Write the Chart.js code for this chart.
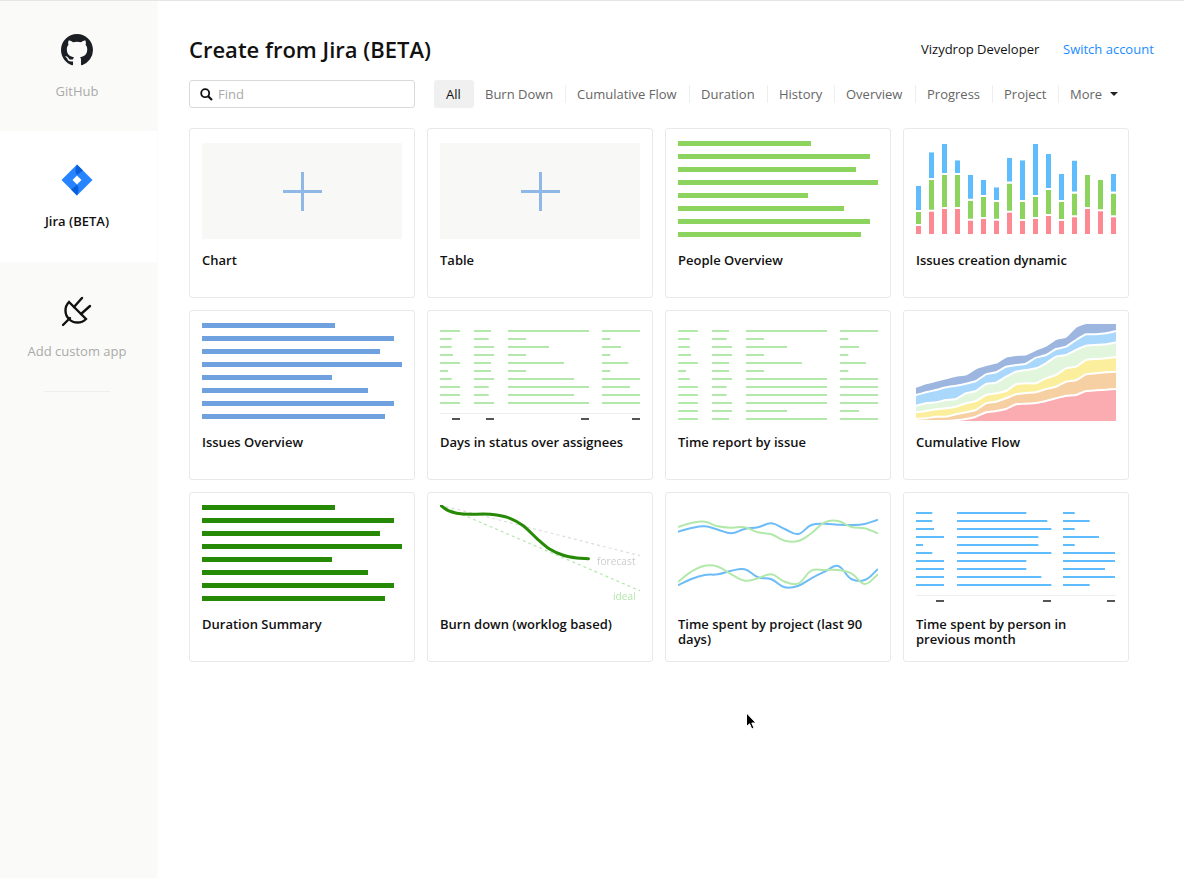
<!DOCTYPE html>
<html>
<head>
<meta charset="utf-8">
<title>Create from Jira (BETA)</title>
<script src="https://cdn.jsdelivr.net/npm/chart.js@4"></script>
<style>
  html, body { margin: 0; padding: 0; background: #fff; }
  body { width: 1184px; height: 878px; position: relative; overflow: hidden; font-family: "Open Sans", sans-serif; font-size: 13px; color: #111; }
  canvas { position: absolute; display: block; }
  .abs { position: absolute; white-space: nowrap; line-height: 16px; }
  #topline { position: absolute; left: 0; top: 0; width: 1184px; height: 1px; background: #e6e6e6; z-index: 5; }
  #sidebar { position: absolute; left: 0; top: 0; width: 157px; height: 878px; background: #fafaf8; box-shadow: 0 0 3px rgba(0,0,0,0.04); }
  #activeTab { position: absolute; left: 0; top: 131px; width: 157px; height: 131px; background: #fff; }
  #sideRule { position: absolute; left: 44px; top: 391px; width: 66px; height: 1px; background: #eee; }
  .side { left: 0; width: 154px; text-align: center; color: #aaa; }
  #find { position: absolute; left: 189px; top: 80px; width: 224px; height: 26px; border: 1px solid #d9d9d9; border-radius: 3px; }
  #allTab { position: absolute; left: 434px; top: 80px; width: 40px; height: 28px; background: #f0f0f0; border-radius: 3px; }
  .tab { color: #666; top: 86px; }
  .sep { position: absolute; top: 85px; width: 1px; height: 18px; background: #eee; }
  #caret { position: absolute; left: 1110px; top: 92px; width: 0; height: 0; border-left: 4px solid transparent; border-right: 4px solid transparent; border-top: 4px solid #222; }
  .card { position: absolute; width: 224px; height: 168px; border: 1px solid #e9e9e9; border-radius: 3px; }
  .cardTitle { position: absolute; width: 200px; font-weight: 600; line-height: 15px; color: #111; }
  .blank { position: absolute; width: 200px; height: 96px; background: #f8f8f6; }
  .axisLine { position: absolute; width: 200px; height: 1px; background: #eee; }
  .dash { position: absolute; width: 8px; height: 2px; background: #555; }
  .note { font-size: 10px; line-height: 12px; letter-spacing: 0.1px; }
</style>
</head>
<body>
<div id="topline"></div>
<div id="sidebar"></div>
<div id="activeTab"></div>
<div id="sideRule"></div>

<svg class="abs" style="left:61px;top:34px" width="32" height="32" viewBox="0 0 16 16"><path fill="#1b1f23" d="M8 0C3.58 0 0 3.58 0 8c0 3.54 2.29 6.53 5.47 7.59.4.07.55-.17.55-.38 0-.19-.01-.82-.01-1.49-2.01.37-2.53-.49-2.69-.94-.09-.23-.48-.94-.82-1.13-.28-.15-.68-.52-.01-.53.63-.01 1.08.58 1.23.82.72 1.21 1.87.87 2.33.66.07-.52.28-.87.51-1.07-1.78-.2-3.64-.89-3.64-3.95 0-.87.31-1.59.82-2.15-.08-.2-.36-1.02.08-2.12 0 0 .67-.21 2.2.82.64-.18 1.32-.27 2-.27.68 0 1.36.09 2 .27 1.53-1.04 2.2-.82 2.2-.82.44 1.1.16 1.92.08 2.12.51.56.82 1.27.82 2.15 0 3.07-1.87 3.75-3.65 3.95.29.25.54.73.54 1.48 0 1.07-.01 1.93-.01 2.2 0 .21.15.46.55.38A8.013 8.013 0 0016 8c0-4.42-3.58-8-8-8z"/></svg>
<div class="abs side" style="top:83px">GitHub</div>

<svg class="abs" style="left:61px;top:164px" width="32" height="32" viewBox="0 0 32 32">
  <path fill="#2684ff" d="M16 0.5 L31.5 16 L16 31.5 L0.5 16 Z"/>
  <path fill="#0a5fd8" d="M16 0.5 L22 6.5 L16 11 Q13 8 16 0.5 Z M16 31.5 L10 25.5 L16 21 Q19 24 16 31.5 Z"/>
  <path fill="#fff" d="M16 11.5 L20.5 16 L16 20.5 L11.5 16 Z"/>
</svg>
<div class="abs side" style="top:213px;color:#111;font-weight:600">Jira (BETA)</div>

<svg class="abs" style="left:60px;top:294px" width="34" height="34" viewBox="0 0 34 34" fill="none" stroke="#111" stroke-width="2.4" stroke-linecap="round">
  <path d="M9 8 L26 25 A12 12 0 0 1 9 8 Z"/>
  <path d="M14 13 L22 4 M21 20 L30 12 M10 24 L3 31"/>
</svg>
<div class="abs side" style="top:343px">Add custom app</div>

<div class="abs" style="left:189px;top:33px;font-size:22px;line-height:32px;font-weight:600">Create from Jira (BETA)</div>
<div class="abs" style="left:921px;top:41px">Vizydrop Developer</div>
<div class="abs" style="left:1063px;top:41px;color:#1a8cff">Switch account</div>

<div id="find"></div>
<svg class="abs" style="left:200px;top:88px" width="13" height="13" viewBox="0 0 13 13" fill="none" stroke="#111" stroke-width="1.8"><circle cx="5.2" cy="5.2" r="4"/><path d="M8.2 8.2 L12 12" stroke-width="2.2"/></svg>
<div class="abs" style="left:218px;top:86px;color:#aaa">Find</div>

<div id="allTab"></div>
<div class="abs" style="left:446px;top:86px;color:#111">All</div>
<div id="tabs"></div>
<div id="caret"></div>

<div id="cards"></div>

<svg class="abs" style="left:745px;top:712px;z-index:6" width="12" height="19" viewBox="0 0 12 19"><path fill="#000" stroke="#fff" stroke-width="1" d="M1.5 1 L1.5 14.5 L4.6 11.8 L6.8 17 L9 16 L6.8 11 L11 11 Z"/></svg>

<script>
// top bar filters
const tabNames = ["Burn Down", "Cumulative Flow", "Duration", "History", "Overview", "Progress", "Project", "More"]
const cardNames = [
  "Chart", "Table", "People Overview", "Issues creation dynamic",
  "Issues Overview", "Days in status over assignees", "Time report by issue", "Cumulative Flow",
  "Duration Summary", "Burn down (worklog based)", "Time spent by project (last 90 days)", "Time spent by person in previous month"
]

// shared by the three plain bar thumbnails
const overviewValues = [133, 192, 178, 200, 130, 166, 192, 183]

// issues creation dynamic
const dynamicRed = [8, 22.3, 25, 25, 13.3, 15, 13.3, 21.3, 13, 15, 18, 13, 16.7, 25, 22.7, 16.7]
const dynamicGreen = [14, 31.7, 34, 34, 20, 22, 18.7, 29.3, 19, 22, 26, 19, 23.7, 34, 31.3, 23.7]
const dynamicBlue = [26.3, 27.7, 31, 14.7, 25.7, 17.3, 14.7, 25.7, 41.7, 53, 36, 28, 33, 0, 0, 19.7]

// days in status over assignees
const daysAssignee = [20, 11.7, 11.7, 13, 20, 8, 11.7, 20, 20, 20]
const daysOpen = [17, 14.7, 20, 20, 17, 17, 20, 14.7, 14.7, 20]
const daysProgress = [81, 18, 41, 18, 56, 18, 66, 81, 66, 81]
const daysDone = [38, 8.3, 19, 8.3, 26.3, 8.3, 38, 28, 38, 38]

// time report by issue
const reportIssue = [20, 11.7, 11.7, 13, 20, 8, 11.7, 20, 20, 20, 20, 20]
const reportUser = [17, 14.7, 20, 20, 17, 17, 20, 14.7, 14.7, 20, 20, 17]
const reportLogged = [81, 18, 41, 18, 56, 18, 81, 81, 81, 81, 41, 81]
const reportTotal = [38, 8.3, 19, 8.3, 26, 8.3, 38, 38, 38, 38, 19, 38]

// cumulative flow, already cumulative from the bottom band up
const flowDates = [1, 2, 3, 4, 5, 6, 7, 8, 9, 10, 11, 12, 13, 14, 15, 16, 17, 18, 19, 20, 21]
const flowDone = [0, 0, 0, 0, 0.7, 2, 4.3, 8.7, 10, 12, 16.7, 17.3, 18, 20, 22.7, 25.3, 26, 30, 30.7, 31.3, 32]
const flowReview = [2, 2.7, 4.3, 4.3, 6.7, 8.7, 11, 17.7, 19.3, 22.7, 26.7, 28, 28.7, 32, 34.3, 39.3, 40.7, 46.7, 47.7, 48.7, 49.3]
const flowTest = [8.7, 10, 11.7, 12.7, 14.3, 17.7, 20, 26, 27.7, 30, 36.7, 37.7, 37.7, 42.7, 46, 52.7, 54.3, 61, 62, 62.7, 64]
const flowDoing = [15.3, 17.7, 18.7, 21, 22, 27.7, 30, 37, 38.3, 44.3, 49.3, 51, 52.7, 57.7, 64.3, 66, 71, 75.3, 76, 76.7, 78.7]
const flowReady = [26, 28.7, 31, 33.7, 35.3, 37.3, 40, 46.7, 48.7, 54.3, 56, 57.3, 63.3, 66, 72, 74.3, 81, 86.7, 86.7, 87.7, 90]
const flowBacklog = [34.3, 37.7, 40.3, 42.7, 45.3, 46.7, 52.7, 56, 58.3, 64.3, 66, 66.7, 71.3, 75.3, 82, 84.3, 94.3, 98, 98, 98, 98]

// burn down
const burnDays = [0, 8.3, 16.7, 30, 43.3, 56.7, 70, 83.3, 96.7, 110, 123.3, 136.7, 148.5]
const burnLeft = [100, 94.3, 91.7, 90.7, 91, 90, 86.7, 79.3, 66.7, 55.7, 49.7, 47, 46.3]
const guideDays = [0, 200]
const idealLeft = [100, 14.3]
const forecastLeft = [100, 49.3]

// time spent by project
const projectWeeks = [1, 2, 3, 4, 5, 6, 7, 8, 9, 10, 11, 12, 13, 14, 15, 16]
const projectTopBlue = [68.3, 72, 73.7, 70.3, 66.7, 71, 72.7, 76.7, 71, 66, 75, 76.3, 75.3, 75, 76, 80.3]
const projectTopGreen = [73, 77, 78.3, 73.7, 72.3, 72.7, 67.7, 65.7, 59.3, 59, 66.7, 77.7, 79, 73, 71.7, 66.7]
const projectLowBlue = [14.7, 21, 25, 25.7, 29.3, 30.7, 22.7, 20.7, 12.7, 14, 21.7, 28.3, 34, 21, 20, 31]
const projectLowGreen = [18, 28.3, 34.3, 33.3, 25.7, 19.3, 21.7, 25.7, 18.3, 16.3, 29.3, 30, 30, 26.7, 16, 25.7]

// time spent by person
const personCount = [16.3, 16.3, 18, 28, 7, 16.3, 28, 28, 28, 28]
const personHours = [69.3, 90.3, 94.3, 81.3, 81.3, 94.3, 69.3, 69.3, 84.3, 94.3]
const personShare = [11.7, 26.7, 11.7, 36, 11.7, 52, 52, 42, 52, 26.7]

const GREEN = "#8cd45e"
const STEEL = "#6fa1de"
const FOREST = "#268a06"
const MINT = "#b3e8ab"
const SKY = "#5fbcfd"
const ROSE = "#fd8a92"

Chart.defaults.animation = false
Chart.defaults.responsive = false
Chart.defaults.maintainAspectRatio = false
Chart.defaults.plugins.legend.display = false
Chart.defaults.plugins.tooltip.enabled = false

const body = document.body

function addDiv(parent, className, left, top, text) {
  const el = document.createElement("div")
  el.className = className
  el.style.left = left + "px"
  el.style.top = top + "px"
  if (text) el.textContent = text
  parent.appendChild(el)
  return el
}

function addChart(left, top, width, height, config) {
  const canvas = document.createElement("canvas")
  canvas.width = width
  canvas.height = height
  canvas.style.left = left + "px"
  canvas.style.top = top + "px"
  canvas.style.width = width + "px"
  canvas.style.height = height + "px"
  body.appendChild(canvas)
  return new Chart(canvas, config)
}

// one column of horizontal bars, the x scale runs 1px per unit
function rowBars(left, top, width, step, thickness, values, color) {
  addChart(left, top, width, values.length * step, {
    type: "bar",
    data: {
      labels: values.map((v, i) => i + 1),
      datasets: [{ data: values, backgroundColor: color, barThickness: thickness, inflateAmount: 0 }]
    },
    options: {
      indexAxis: "y",
      scales: {
        x: { display: false, min: 0, max: width },
        y: { display: false }
      }
    }
  })
}

function lineThumb(left, top, width, height, labels, datasets) {
  addChart(left, top, width, height, {
    type: "line",
    data: { labels: labels, datasets: datasets },
    options: {
      elements: { point: { radius: 0 } },
      scales: {
        x: { display: false, offset: false },
        y: { display: false, min: 0, max: height }
      }
    }
  })
}

function curve(values, color) {
  return { data: values, borderColor: color, borderWidth: 2, tension: 0.4, fill: false }
}

function band(values, color, target) {
  return { data: values, borderColor: "#fff", backgroundColor: color, borderWidth: 2, tension: 0.15, fill: target }
}

function dashes(axisTop, axisLeft, positions) {
  const line = addDiv(body, "axisLine", axisLeft, axisTop)
  positions.forEach(x => addDiv(body, "dash", x, axisTop + 5))
  return line
}

// page chrome
const tabLefts = [485, 577, 701, 779, 846, 927, 1004, 1070]
const sepLefts = [565, 689, 767, 834, 915, 992, 1058]
const tabsBox = document.getElementById("tabs")
tabNames.forEach((name, i) => addDiv(tabsBox, "abs tab", tabLefts[i], 86, name))
sepLefts.forEach(x => addDiv(tabsBox, "sep", x, 85))

// card frames and titles
const cardsBox = document.getElementById("cards")
const cardLefts = [189, 427, 665, 903]
const cardTops = [128, 310, 492]
cardNames.forEach((name, i) => {
  const left = cardLefts[i % 4]
  const top = cardTops[Math.floor(i / 4)]
  addDiv(cardsBox, "card", left, top)
  addDiv(cardsBox, "cardTitle", left + 13, top + 125, name)
})

// the two blank thumbnails
cardLefts.slice(0, 2).forEach(left => {
  addDiv(cardsBox, "blank", left + 13, 143)
  const plus = document.createElementNS("http://www.w3.org/2000/svg", "svg")
  plus.setAttribute("width", 39)
  plus.setAttribute("height", 39)
  plus.setAttribute("viewBox", "0 0 39 39")
  plus.style.cssText = "position:absolute;left:" + (left + 94) + "px;top:172px"
  plus.innerHTML = '<path d="M0 19.5 H39 M19.5 0 V39" stroke="#8fb8e6" stroke-width="3" fill="none"/>'
  cardsBox.appendChild(plus)
})

// people overview, issues overview, duration summary
rowBars(678, 137, 200, 13, 5, overviewValues, GREEN)
rowBars(202, 319, 200, 13, 5, overviewValues, STEEL)
rowBars(202, 501, 200, 13, 5, overviewValues, FOREST)

// issues creation dynamic
addChart(912, 144, 208, 90, {
  type: "bar",
  data: {
    labels: dynamicRed.map((v, i) => i + 1),
    datasets: [
      { data: dynamicRed, backgroundColor: ROSE, barThickness: 5, inflateAmount: 0 },
      { data: dynamicGreen, backgroundColor: GREEN, barThickness: 5, inflateAmount: 0, borderColor: "#fff", borderWidth: { bottom: 2 }, borderSkipped: false },
      { data: dynamicBlue, backgroundColor: SKY, barThickness: 5, inflateAmount: 0, borderColor: "#fff", borderWidth: { bottom: 2 }, borderSkipped: false }
    ]
  },
  options: {
    scales: {
      x: { display: false, stacked: true },
      y: { display: false, stacked: true, min: 0, max: 90 }
    }
  }
})

// days in status over assignees
rowBars(440, 327, 20, 8, 2, daysAssignee, MINT)
rowBars(474, 327, 20, 8, 2, daysOpen, MINT)
rowBars(508, 327, 81, 8, 2, daysProgress, MINT)
rowBars(602, 327, 38, 8, 2, daysDone, MINT)
dashes(413, 440, [452, 486, 581, 632])

// time report by issue
rowBars(678, 327, 20, 8, 2, reportIssue, MINT)
rowBars(712, 327, 20, 8, 2, reportUser, MINT)
rowBars(746, 327, 81, 8, 2, reportLogged, MINT)
rowBars(840, 327, 38, 8, 2, reportTotal, MINT)

// cumulative flow
lineThumb(916, 323, 200, 98, flowDates, [
  band(flowDone, "#fbacb0", "origin"),
  band(flowReview, "#f6cfa3", "-1"),
  band(flowTest, "#fbef9d", "-1"),
  band(flowDoing, "#e2f6dd", "-1"),
  band(flowReady, "#a9d8fc", "-1"),
  band(flowBacklog, "#9cb6df", "-1")
])

// burn down
function xy(xs, ys) {
  return xs.map((x, i) => ({ x: x, y: ys[i] }))
}
addChart(440, 505, 200, 100, {
  type: "line",
  data: {
    datasets: [
      { data: xy(burnDays, burnLeft), borderColor: FOREST, borderWidth: 3, borderCapStyle: "round", cubicInterpolationMode: "monotone" },
      { data: xy(guideDays, idealLeft), borderColor: MINT, borderWidth: 1.2, borderDash: [3, 3] },
      { data: xy(guideDays, forecastLeft), borderColor: "#ddd", borderWidth: 1.2, borderDash: [3, 3] }
    ]
  },
  options: {
    elements: { point: { radius: 0 } },
    scales: {
      x: { type: "linear", display: false, min: 0, max: 200 },
      y: { display: false, min: 0, max: 100 }
    }
  }
})
addDiv(body, "abs note", 597, 555, "forecast").style.color = "#ccc"
addDiv(body, "abs note", 613, 590, "ideal").style.color = MINT

// time spent by project
lineThumb(678, 505, 200, 95, projectWeeks, [
  curve(projectTopGreen, MINT),
  curve(projectTopBlue, "#6dbcf8"),
  curve(projectLowGreen, MINT),
  curve(projectLowBlue, "#6dbcf8")
])

// time spent by person in previous month
rowBars(916, 509, 28, 8, 2, personCount, SKY)
rowBars(957, 509, 95, 8, 2, personHours, SKY)
rowBars(1063, 509, 52, 8, 2, personShare, SKY)
dashes(595, 916, [936, 1043, 1107])
</script>
</body>
</html>
